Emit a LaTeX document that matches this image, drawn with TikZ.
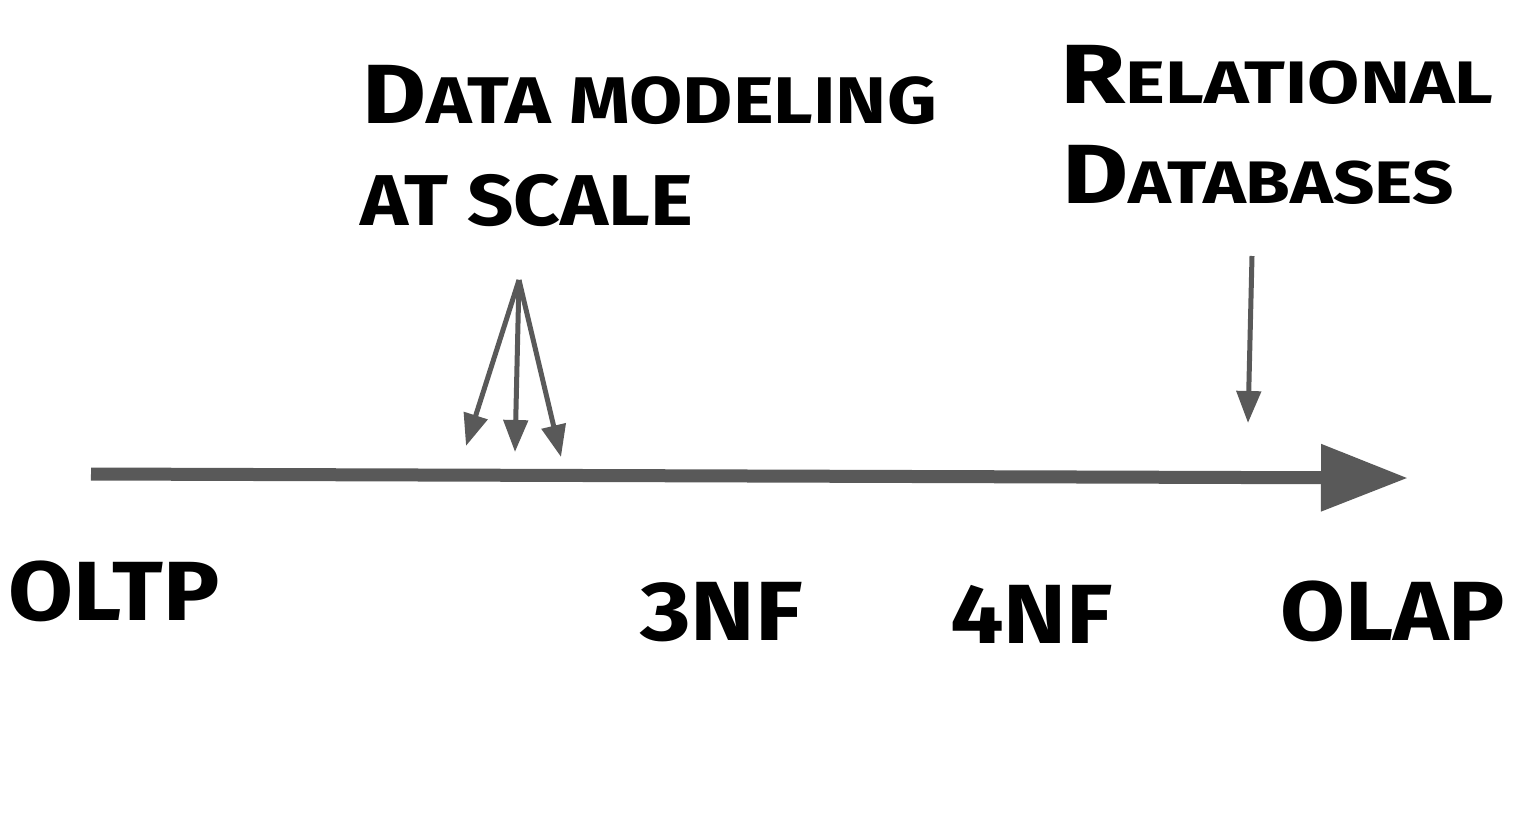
\documentclass[tikz,border=0pt]{standalone}
\usepackage{graphicx}
\usepackage{fontspec}
\setmainfont{Fira Sans}[BoldFont={Fira Sans Bold}]
\usetikzlibrary{arrows.meta}
\definecolor{arrowgrey}{HTML}{595959}
\newcommand{\biglet}[1]{{\fontsize{84}{90}\selectfont #1}}
\newcommand{\sizedlet}[2]{{\fontsize{#1}{#1}\selectfont #2}}
\begin{document}
\begin{tikzpicture}[x=1pt,y=-1pt,
  lbl/.style={anchor=base west,inner sep=0pt,font=\bfseries,text=black},
  thinarrow/.style={draw=arrowgrey,line width=5pt,-{Triangle[length=32pt,width=24pt]}},
  mainarrow/.style={draw=arrowgrey,line width=13pt,-{Triangle[length=87pt,width=64pt]}}]
\useasboundingbox (0,0) rectangle (1518,822);
% labels
\node[lbl] (dm1) at (362,123) {\scalebox{1.17}[1]{\biglet{D}\sizedlet{66}{ATA MODELING}}};
\node[lbl] (dm2) at (360,225) {\scalebox{1.13}[1]{\sizedlet{72}{AT SCALE}}};
\node[lbl] (rd1) at (1060,103) {\scalebox{1.26}[1]{\biglet{R}\sizedlet{60}{ELATIONAL}}};
\node[lbl] (rd2) at (1062,203) {\scalebox{1.21}[1]{\biglet{D}\sizedlet{60}{ATABASES}}};
\node[lbl] (oltp) at (8,620) {\scalebox{1.12}[1]{\biglet{OLTP}}};
\node[lbl] (nf3) at (640,640) {\scalebox{1.16}[1]{\biglet{3NF}}};
\node[lbl] (nf4) at (950,643) {\scalebox{1.13}[1]{\biglet{4NF}}};
\node[lbl] (olap) at (1280,640) {\scalebox{1.12}[1]{\biglet{OLAP}}};
% coordinates
\coordinate (axs) at (91,474);
\coordinate (axe) at (1408,478);
\coordinate (src) at (519,280);
\coordinate (t1) at (466,446);
\coordinate (t2) at (515,452);
\coordinate (t3) at (561,457);
\coordinate (rs) at (1252,256);
\coordinate (rt) at (1248,423);
% arrows
\draw[mainarrow] (axs) -- (axe);
\draw[thinarrow] (src) -- (t1);
\draw[thinarrow] (src) -- (t2);
\draw[thinarrow] (src) -- (t3);
\draw[thinarrow] (rs) -- (rt);
\end{tikzpicture}
\end{document}
